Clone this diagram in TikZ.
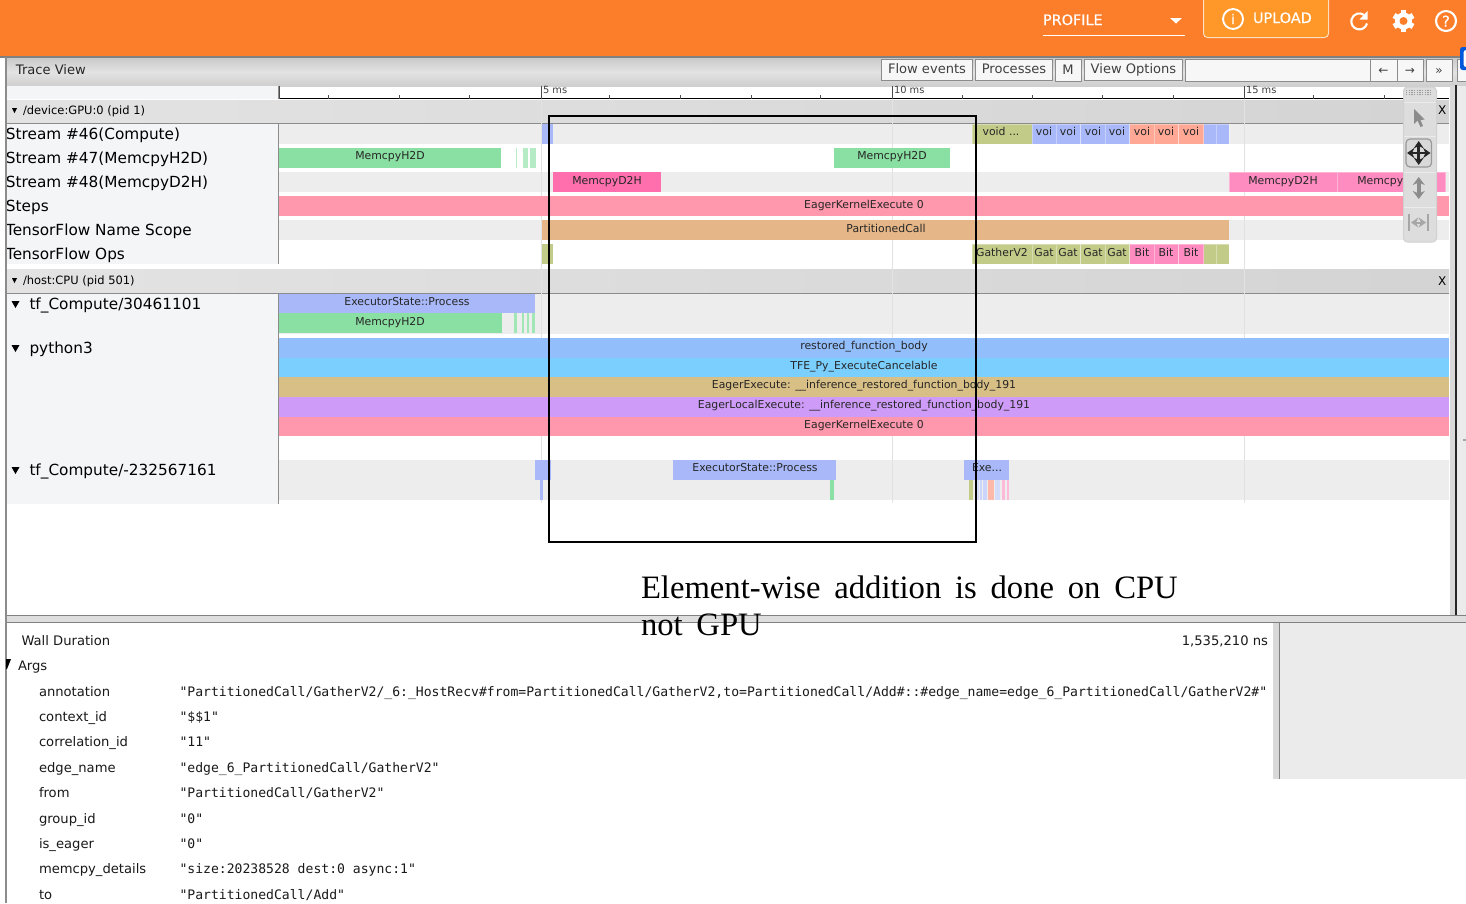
\documentclass[tikz,border=0pt]{standalone}
\usepackage{fontspec}
\setmainfont{DejaVu Sans}
\newfontfamily\monofnt{DejaVu Sans Mono}
\newfontfamily\capfnt{Liberation Serif}
\newfontfamily\barfnt[FakeBold=0.25]{DejaVu Sans}
\usetikzlibrary{arrows.meta}

\definecolor{barorange}{HTML}{FD7E2A}
\definecolor{uploadorange}{HTML}{FF9828}
\definecolor{rowgray}{HTML}{EDEDED}
\definecolor{sidegray}{HTML}{F4F5F7}
\definecolor{lineray}{HTML}{8C8C8C}
\definecolor{gridgray}{HTML}{E2E2E2}
\definecolor{slicegreen}{HTML}{89E0A2}
\definecolor{paleslicegreen}{HTML}{B5EBC5}
\definecolor{sliceblue}{HTML}{A8B8F8}
\definecolor{slicepink}{HTML}{FF8CC0}
\definecolor{hotpink}{HTML}{FF6FAE}
\definecolor{slicerose}{HTML}{FF98AC}
\definecolor{slicetan}{HTML}{E5B687}
\definecolor{sliceolive}{HTML}{C2CC88}
\definecolor{slicesalmon}{HTML}{FFA896}
\definecolor{bodyblue}{HTML}{92BEFC}
\definecolor{cancelblue}{HTML}{7BCFFF}
\definecolor{sand}{HTML}{D8BF86}
\definecolor{lilac}{HTML}{CE9CF8}
\definecolor{toolgray}{HTML}{DDDDDD}

\tikzset{
    base/.style={inner sep=0pt, outer sep=0pt, anchor=base west},
    tracklabel/.style={base, font=\fontsize{11.47}{14}\selectfont},
    prochead/.style={base, font=\fontsize{8.6}{10}\selectfont},
    tick/.style={base, anchor=base west, font=\fontsize{7.4}{9}\selectfont, text=black!75},
    slicetext/.style={inner sep=0pt, anchor=base, text=black!85, font=\fontsize{8.15}{10}\selectfont},
    btn/.style={inner sep=0pt, anchor=base, font=\fontsize{9.8}{12}\selectfont, text=black!75},
    toolbox/.style={draw=lineray, fill=white!97!black, line width=0.75pt},
    detail/.style={base, font=\fontsize{9.85}{12}\selectfont, text=black!90},
    value/.style={base, font=\monofnt\fontsize{9.82}{12}\selectfont, text=black!90},
    sep/.style={draw=white, draw opacity=0.35, line width=0.5pt},
    icon/.style={draw=white, line width=1.4pt},
    panarrow/.style={{Stealth[length=5.5pt,width=7.5pt]}-{Stealth[length=5.5pt,width=7.5pt]}}
}

\begin{document}
\begin{tikzpicture}[x=0.75pt, y=-0.75pt]
    \useasboundingbox (0, 0) rectangle (1466, 903);
    \fill[white] (0, 0) rectangle (1466, 903);

    % orange title bar
    \fill[black!50] (0, 56) rectangle (1466, 58);
    \fill[barorange] (0, 0) rectangle (1466, 56);
    \node[base, font=\barfnt\fontsize{10.8}{12}\selectfont, text=white] (profile) at (1043, 25) {PROFILE};
    \draw[white, line width=0.75pt] (1043, 35.5) -- (1185, 35.5);
    \fill[white] (1170, 18) -- (1182, 18) -- (1176, 23.5) -- cycle;
    \draw[fill=uploadorange, draw=white!70!uploadorange, line width=0.75pt, rounded corners=3pt] (1203.5, -5) rectangle (1328.5, 37.5);
    \draw[icon] (1233, 19) circle (10);
    \node[base, anchor=base, font=\barfnt\fontsize{10}{12}\selectfont, text=white] (infomark) at (1233, 24) {i};
    \node[base, font=\barfnt\fontsize{10.8}{12}\selectfont, text=white] (upload) at (1253, 23) {UPLOAD};
    \draw[icon, line width=1.6pt] (1367, 23.5) arc (15:305:8);
    \fill[white] (1367.5, 11) -- (1367.5, 19.5) -- (1359.5, 19.5) -- cycle;
    \foreach \a in {30, 90, ..., 330}
        \draw[white, line width=4.2pt] (1403.5, 21) -- ++(\a:11);
    \fill[white] (1403.5, 21) circle (8.5);
    \fill[barorange] (1403.5, 21) circle (4);
    \draw[icon, line width=1.6pt] (1446, 21) circle (10);
    \node[base, anchor=base, font=\barfnt\fontsize{11}{12}\selectfont, text=white] (helpmark) at (1446, 26.5) {?};

    % toolbar
    \shade[top color=black!21, bottom color=black!19, middle color=black!11] (6, 58) rectangle (1466, 86);
    \node[base, font=\fontsize{9.8}{12}\selectfont, text=black!85] (traceview) at (16, 74) {Trace View};
    \draw[toolbox] (881.5, 59.5) rectangle (972, 80);
    \node[btn] (flowevents) at (927, 73) {Flow events};
    \draw[toolbox] (975.5, 59.5) rectangle (1052.5, 80);
    \node[btn] (processes) at (1014, 73) {Processes};
    \draw[toolbox] (1055.5, 59.5) rectangle (1081, 81);
    \node[btn] (mbutton) at (1068, 74) {M};
    \draw[toolbox] (1084.5, 59.5) rectangle (1182.5, 80);
    \node[btn] (viewoptions) at (1133.5, 73) {View Options};
    \draw[toolbox] (1185.5, 59.5) rectangle (1370, 81);
    \draw[toolbox] (1370, 59.5) rectangle (1397, 81);
    \node[btn, font=\fontsize{9}{12}\selectfont] (prevbtn) at (1383.5, 74) {←};
    \draw[toolbox] (1397, 59.5) rectangle (1423, 81);
    \node[btn, font=\fontsize{9}{12}\selectfont] (nextbtn) at (1410, 74) {→};
    \draw[toolbox] (1426.5, 59.5) rectangle (1452, 81);
    \node[btn, font=\fontsize{9}{12}\selectfont] (morebtn) at (1439, 74) {»};
    \draw[toolbox] (1457, 59.5) rectangle (1470, 81);
    \fill[blue!60!cyan!85!black, rounded corners=2pt] (1460, 47) rectangle (1470, 70);
    \fill[white, rounded corners=2pt] (1463.5, 50) rectangle (1470, 67);

    % side column and track backgrounds
    \fill[sidegray] (6, 86) rectangle (278, 99);
    \fill[sidegray] (6, 124) rectangle (278, 264);
    \fill[sidegray] (6, 294) rectangle (278, 503.5);
    \shade[left color=black!11, right color=black!17] (6, 100) rectangle (1449, 123);
    \shade[left color=black!11, right color=black!17] (6, 269) rectangle (1449, 293);
    \draw[lineray, line width=0.75pt] (6, 123.5) -- (1449, 123.5);
    \draw[lineray, line width=0.75pt] (6, 293.5) -- (1449, 293.5);
    \fill[rowgray] (279, 124) rectangle (1449, 144);
    \fill[rowgray] (279, 172) rectangle (1449, 192);
    \fill[rowgray] (279, 220) rectangle (1449, 240);
    \fill[rowgray] (279, 294) rectangle (1449, 334);
    \fill[rowgray] (279, 460) rectangle (1449, 500);
    \draw[lineray, line width=0.75pt] (278.5, 86) -- (278.5, 99);
    \draw[lineray, line width=0.75pt] (278.5, 124) -- (278.5, 264);
    \draw[lineray, line width=0.75pt] (278.5, 294) -- (278.5, 503.5);
    \foreach \x in {541, 892, 1244}
        \draw[gridgray, line width=0.75pt] (\x, 99) -- (\x, 503);

    % ruler
    \draw[black, line width=0.75pt] (279, 98.5) -- (1449, 98.5);
    \draw[black!70, line width=0.6pt] (279, 86) -- (279, 98.5);
    \foreach \x in {328.5, 399.5, 469, 609, 680, 751, 820, 962, 1032, 1102, 1173, 1313, 1384}
        \draw[black!70, line width=0.6pt] (\x, 95) -- (\x, 98.5);
    \foreach \x in {541, 892, 1244}
        \draw[black!70, line width=0.6pt] (\x, 86) -- (\x, 98.5);
    \node[tick] (fivems) at (543, 93.5) {5 ms};
    \node[tick] (tenms) at (894, 93.5) {10 ms};
    \node[tick] (fifteenms) at (1246, 93.5) {15 ms};

    % process headers
    \fill[black] (12, 108) -- (17, 108) -- (14.5, 113) -- cycle;
    \node[prochead] (gpuhead) at (23, 114) {/device:GPU:0 (pid 1)};
    \node[prochead, font=\fontsize{9}{10}\selectfont] (gpuclose) at (1438, 114.5) {X};
    \fill[black] (12, 278) -- (17, 278) -- (14.5, 283) -- cycle;
    \node[prochead] (cpuhead) at (23, 284) {/host:CPU (pid 501)};
    \node[prochead, font=\fontsize{9}{10}\selectfont] (cpuclose) at (1438, 285) {X};

    % track labels
    \node[tracklabel] (stream46) at (6, 139) {Stream \#46(Compute)};
    \node[tracklabel] (stream47) at (6, 163) {Stream \#47(MemcpyH2D)};
    \node[tracklabel] (stream48) at (6, 187) {Stream \#48(MemcpyD2H)};
    \node[tracklabel] (steps) at (6, 211) {Steps};
    \node[tracklabel] (namescope) at (6, 235) {TensorFlow Name Scope};
    \node[tracklabel] (tfops) at (6, 259) {TensorFlow Ops};
    \fill[black] (11.5, 301) -- (19.5, 301) -- (15.5, 308) -- cycle;
    \node[tracklabel] (compute1) at (29.5, 309) {tf\_Compute/30461101};
    \fill[black] (11.5, 345) -- (19.5, 345) -- (15.5, 352) -- cycle;
    \node[tracklabel] (python) at (29.5, 353) {python3};
    \fill[black] (11.5, 467) -- (19.5, 467) -- (15.5, 474) -- cycle;
    \node[tracklabel] (compute2) at (29.5, 475) {tf\_Compute/-232567161};

    % GPU slices
    \fill[sliceblue] (542, 124) rectangle (553, 144);
    \filldraw[fill=sliceolive, sep] (972, 124) rectangle (1032, 144);
    \foreach \a/\b in {1032/1056, 1056/1080.5, 1080.5/1105, 1105/1129.5, 1203.5/1216, 1216/1229}
        \filldraw[fill=sliceblue, sep] (\a, 124) rectangle (\b, 144);
    \foreach \a/\b in {1129.5/1154, 1154/1178.5, 1178.5/1203.5}
        \filldraw[fill=slicesalmon, sep] (\a, 124) rectangle (\b, 144);
    \node[slicetext] (void0) at (1001, 135.5) {void ...};
    \node[slicetext] (void1) at (1044, 135.5) {voi};
    \node[slicetext] (void2) at (1068, 135.5) {voi};
    \node[slicetext] (void3) at (1093, 135.5) {voi};
    \node[slicetext] (void4) at (1117, 135.5) {voi};
    \node[slicetext] (void5) at (1142, 135.5) {voi};
    \node[slicetext] (void6) at (1166, 135.5) {voi};
    \node[slicetext] (void7) at (1191, 135.5) {voi};

    \fill[slicegreen] (279, 148) rectangle (501, 168);
    \foreach \a/\b in {516/517.3, 523.3/527.5, 530/535.5}
        \fill[paleslicegreen] (\a, 148) rectangle (\b, 168);
    \fill[slicegreen] (833.5, 148) rectangle (950, 168);
    \node[slicetext] (h2d1) at (390, 159) {MemcpyH2D};
    \node[slicetext] (h2d2) at (892, 159) {MemcpyH2D};

    \fill[hotpink] (553, 172) rectangle (661, 192);
    \filldraw[fill=slicepink, sep] (1229, 172) rectangle (1337, 192);
    \filldraw[fill=slicepink, sep] (1337, 172) rectangle (1445.5, 192);
    \node[slicetext] (d2h1) at (607, 184) {MemcpyD2H};
    \node[slicetext] (d2h2) at (1283, 184) {MemcpyD2H};
    \node[slicetext, anchor=base west] (d2h3) at (1357, 184) {Memcpy};

    \fill[slicerose] (279, 196) rectangle (1449, 216);
    \node[slicetext] (steptext) at (864, 208) {EagerKernelExecute 0};

    \fill[slicetan] (542, 220) rectangle (1229, 240);
    \node[slicetext] (partcall) at (886, 232) {PartitionedCall};

    \fill[sliceolive] (542, 244) rectangle (553, 264);
    \foreach \a/\b in {972/1032, 1032/1056, 1056/1080.5, 1080.5/1105, 1105/1129.5, 1203.5/1216, 1216/1229}
        \filldraw[fill=sliceolive, sep] (\a, 244) rectangle (\b, 264);
    \foreach \a/\b in {1129.5/1154, 1154/1178.5, 1178.5/1203.5}
        \filldraw[fill=slicepink, sep] (\a, 244) rectangle (\b, 264);
    \node[slicetext] (gather0) at (1002, 256) {GatherV2};
    \node[slicetext] (gather1) at (1044, 256) {Gat};
    \node[slicetext] (gather2) at (1068, 256) {Gat};
    \node[slicetext] (gather3) at (1093, 256) {Gat};
    \node[slicetext] (gather4) at (1117, 256) {Gat};
    \node[slicetext] (bit1) at (1142, 256) {Bit};
    \node[slicetext] (bit2) at (1166, 256) {Bit};
    \node[slicetext] (bit3) at (1191, 256) {Bit};

    % CPU slices
    \fill[sliceblue] (279, 294) rectangle (535, 313);
    \node[slicetext] (exec1) at (407, 305) {ExecutorState::Process};
    \fill[slicegreen] (279, 313) rectangle (501.5, 333);
    \foreach \a/\b in {514/516.5, 522/523.5, 527/528.5, 532/534.5}
        \fill[slicegreen!80] (\a, 313) rectangle (\b, 333);
    \node[slicetext] (h2d3) at (390, 325) {MemcpyH2D};

    \fill[bodyblue] (279, 338) rectangle (1449, 357.5);
    \fill[cancelblue] (279, 358) rectangle (1449, 377);
    \fill[sand] (279, 377) rectangle (1449, 397);
    \fill[lilac] (279, 397) rectangle (1449, 416.5);
    \fill[slicerose] (279, 417) rectangle (1449, 436);
    \node[slicetext] (restored) at (864, 349) {restored\_function\_body};
    \node[slicetext] (cancelable) at (864, 369) {TFE\_Py\_ExecuteCancelable};
    \node[slicetext] (eagerexec) at (864, 388) {EagerExecute: \_\_inference\_restored\_function\_body\_191};
    \node[slicetext] (eagerlocal) at (864, 408) {EagerLocalExecute: \_\_inference\_restored\_function\_body\_191};
    \node[slicetext] (eagerkernel) at (864, 428) {EagerKernelExecute 0};

    \fill[sliceblue] (535, 460) rectangle (551, 480);
    \fill[sliceblue] (540, 480) rectangle (543, 500);
    \fill[sliceblue] (673, 460) rectangle (836, 480);
    \node[slicetext] (exec2) at (755, 471) {ExecutorState::Process};
    \fill[slicegreen] (830, 480) rectangle (834, 500);
    \fill[sliceblue] (964, 460) rectangle (1009, 480);
    \node[slicetext] (exec3) at (987, 471) {Exe...};
    \fill[sliceolive] (969, 480) rectangle (972.5, 500);
    \fill[sliceblue!50] (977, 480) rectangle (979, 500);
    \fill[sliceblue!60] (980, 480) rectangle (982, 500);
    \fill[sliceblue!60] (983, 480) rectangle (987, 500);
    \fill[slicesalmon!80] (988, 480) rectangle (993.5, 500);
    \fill[sliceblue!50] (995, 480) rectangle (999.5, 500);
    \fill[slicepink!60] (1002, 480) rectangle (1004.5, 500);
    \fill[slicepink!60] (1006.5, 480) rectangle (1009, 500);

    % navigation panel
    \draw[fill=toolgray, draw=black!18, line width=0.75pt, rounded corners=3pt] (1403.5, 87) rectangle (1436.5, 242);
    \foreach \y in {90, 92, 94}
        \draw[black!40, line width=0.5pt, dash pattern=on 1pt off 1pt] (1406, \y) -- (1432, \y);
    \foreach \y in {102, 136, 172, 207}
        \draw[white!92!black, line width=0.75pt] (1404, \y) -- (1436, \y);
    \fill[black!45] (1414, 109) -- (1414, 124) -- (1417.5, 120.5) -- (1420.5, 127) -- (1423, 126) -- (1420.5, 120) -- (1424.5, 119.5) -- cycle;
    \draw[draw=black!40, fill=black!15, line width=0.9pt, rounded corners=3pt] (1406, 139) rectangle (1431.5, 167);
    \draw[black!85, line width=2.2pt, panarrow] (1418.7, 141) -- (1418.7, 165);
    \draw[black!85, line width=2.2pt, panarrow] (1407, 153) -- (1430.5, 153);
    \draw[black!45, line width=3pt, {Stealth[length=6pt,width=9pt]}-{Stealth[length=6pt,width=9pt]}] (1418.7, 177) -- (1418.7, 199);
    \draw[black!35, line width=1pt] (1409, 214) -- (1409, 231);
    \draw[black!35, line width=1pt] (1428, 214) -- (1428, 231);
    \draw[black!35, line width=1.5pt, panarrow] (1411, 222.5) -- (1426, 222.5);

    % scrollbar edge
    \fill[black!15] (1450, 86) rectangle (1455, 615);
    \fill[black!8] (1456.5, 86) rectangle (1466, 615);
    \draw[black!85, line width=1.1pt] (1456, 85) -- (1456, 615);
    \fill[black!35] (1463, 439) rectangle (1466, 441);

    % highlighted box and caption
    \draw[black, line width=1.7pt] (549, 116) rectangle (976, 542);

    % details pane
    \fill[black!13] (6, 615) rectangle (1466, 622.5);
    \draw[black!50, line width=0.75pt] (6, 615.5) -- (1466, 615.5);
    \draw[black!50, line width=0.75pt] (6, 622.5) -- (1466, 622.5);
    \fill[black!8] (1279, 623) rectangle (1466, 779);
    \fill[black!15] (1273, 623) rectangle (1279, 779);
    \draw[black!50, line width=0.75pt] (1279.5, 623) -- (1279.5, 779);
    \fill[lineray] (4.5, 57) rectangle (6.5, 903);
    \node[base, font=\capfnt\fontsize{24.5}{30}\selectfont] (captiona) at (641, 598) {Element-wise\hspace{0.42em}addition\hspace{0.42em}is\hspace{0.42em}done\hspace{0.42em}on\hspace{0.42em}CPU};
    \node[base, font=\capfnt\fontsize{24.5}{30}\selectfont] (captionb) at (641, 635) {not\hspace{0.42em}GPU};

    \node[detail] (wall) at (21.5, 645) {Wall Duration};
    \node[detail, anchor=base east] (walltime) at (1268, 645) {1,535,210 ns};
    \fill[black] (6, 659) -- (11, 659) -- (7, 669) -- (6, 669) -- cycle;
    \node[detail] (args) at (18, 670) {Args};
    \node[detail] (kannot) at (39, 696) {annotation};
    \node[detail] (kcontext) at (39, 721) {context\_id};
    \node[detail] (kcorr) at (39, 746) {correlation\_id};
    \node[detail] (kedge) at (39, 772) {edge\_name};
    \node[detail] (kfrom) at (39, 797) {from};
    \node[detail] (kgroup) at (39, 823) {group\_id};
    \node[detail] (keager) at (39, 848) {is\_eager};
    \node[detail] (kmemcpy) at (39, 873) {memcpy\_details};
    \node[detail] (kto) at (39, 899) {to};
    \node[value] (vannot) at (179.5, 696) {"PartitionedCall/GatherV2/\_6:\_HostRecv\#from=PartitionedCall/GatherV2,to=PartitionedCall/Add\#::\#edge\_name=edge\_6\_PartitionedCall/GatherV2\#"};
    \node[value] (vcontext) at (179.5, 721) {"\$\$1"};
    \node[value] (vcorr) at (179.5, 746) {"11"};
    \node[value] (vedge) at (179.5, 772) {"edge\_6\_PartitionedCall/GatherV2"};
    \node[value] (vfrom) at (179.5, 797) {"PartitionedCall/GatherV2"};
    \node[value] (vgroup) at (179.5, 823) {"0"};
    \node[value] (veager) at (179.5, 848) {"0"};
    \node[value] (vmemcpy) at (179.5, 873) {"size:20238528 dest:0 async:1"};
    \node[value] (vto) at (179.5, 899) {"PartitionedCall/Add"};

\end{tikzpicture}
\end{document}
